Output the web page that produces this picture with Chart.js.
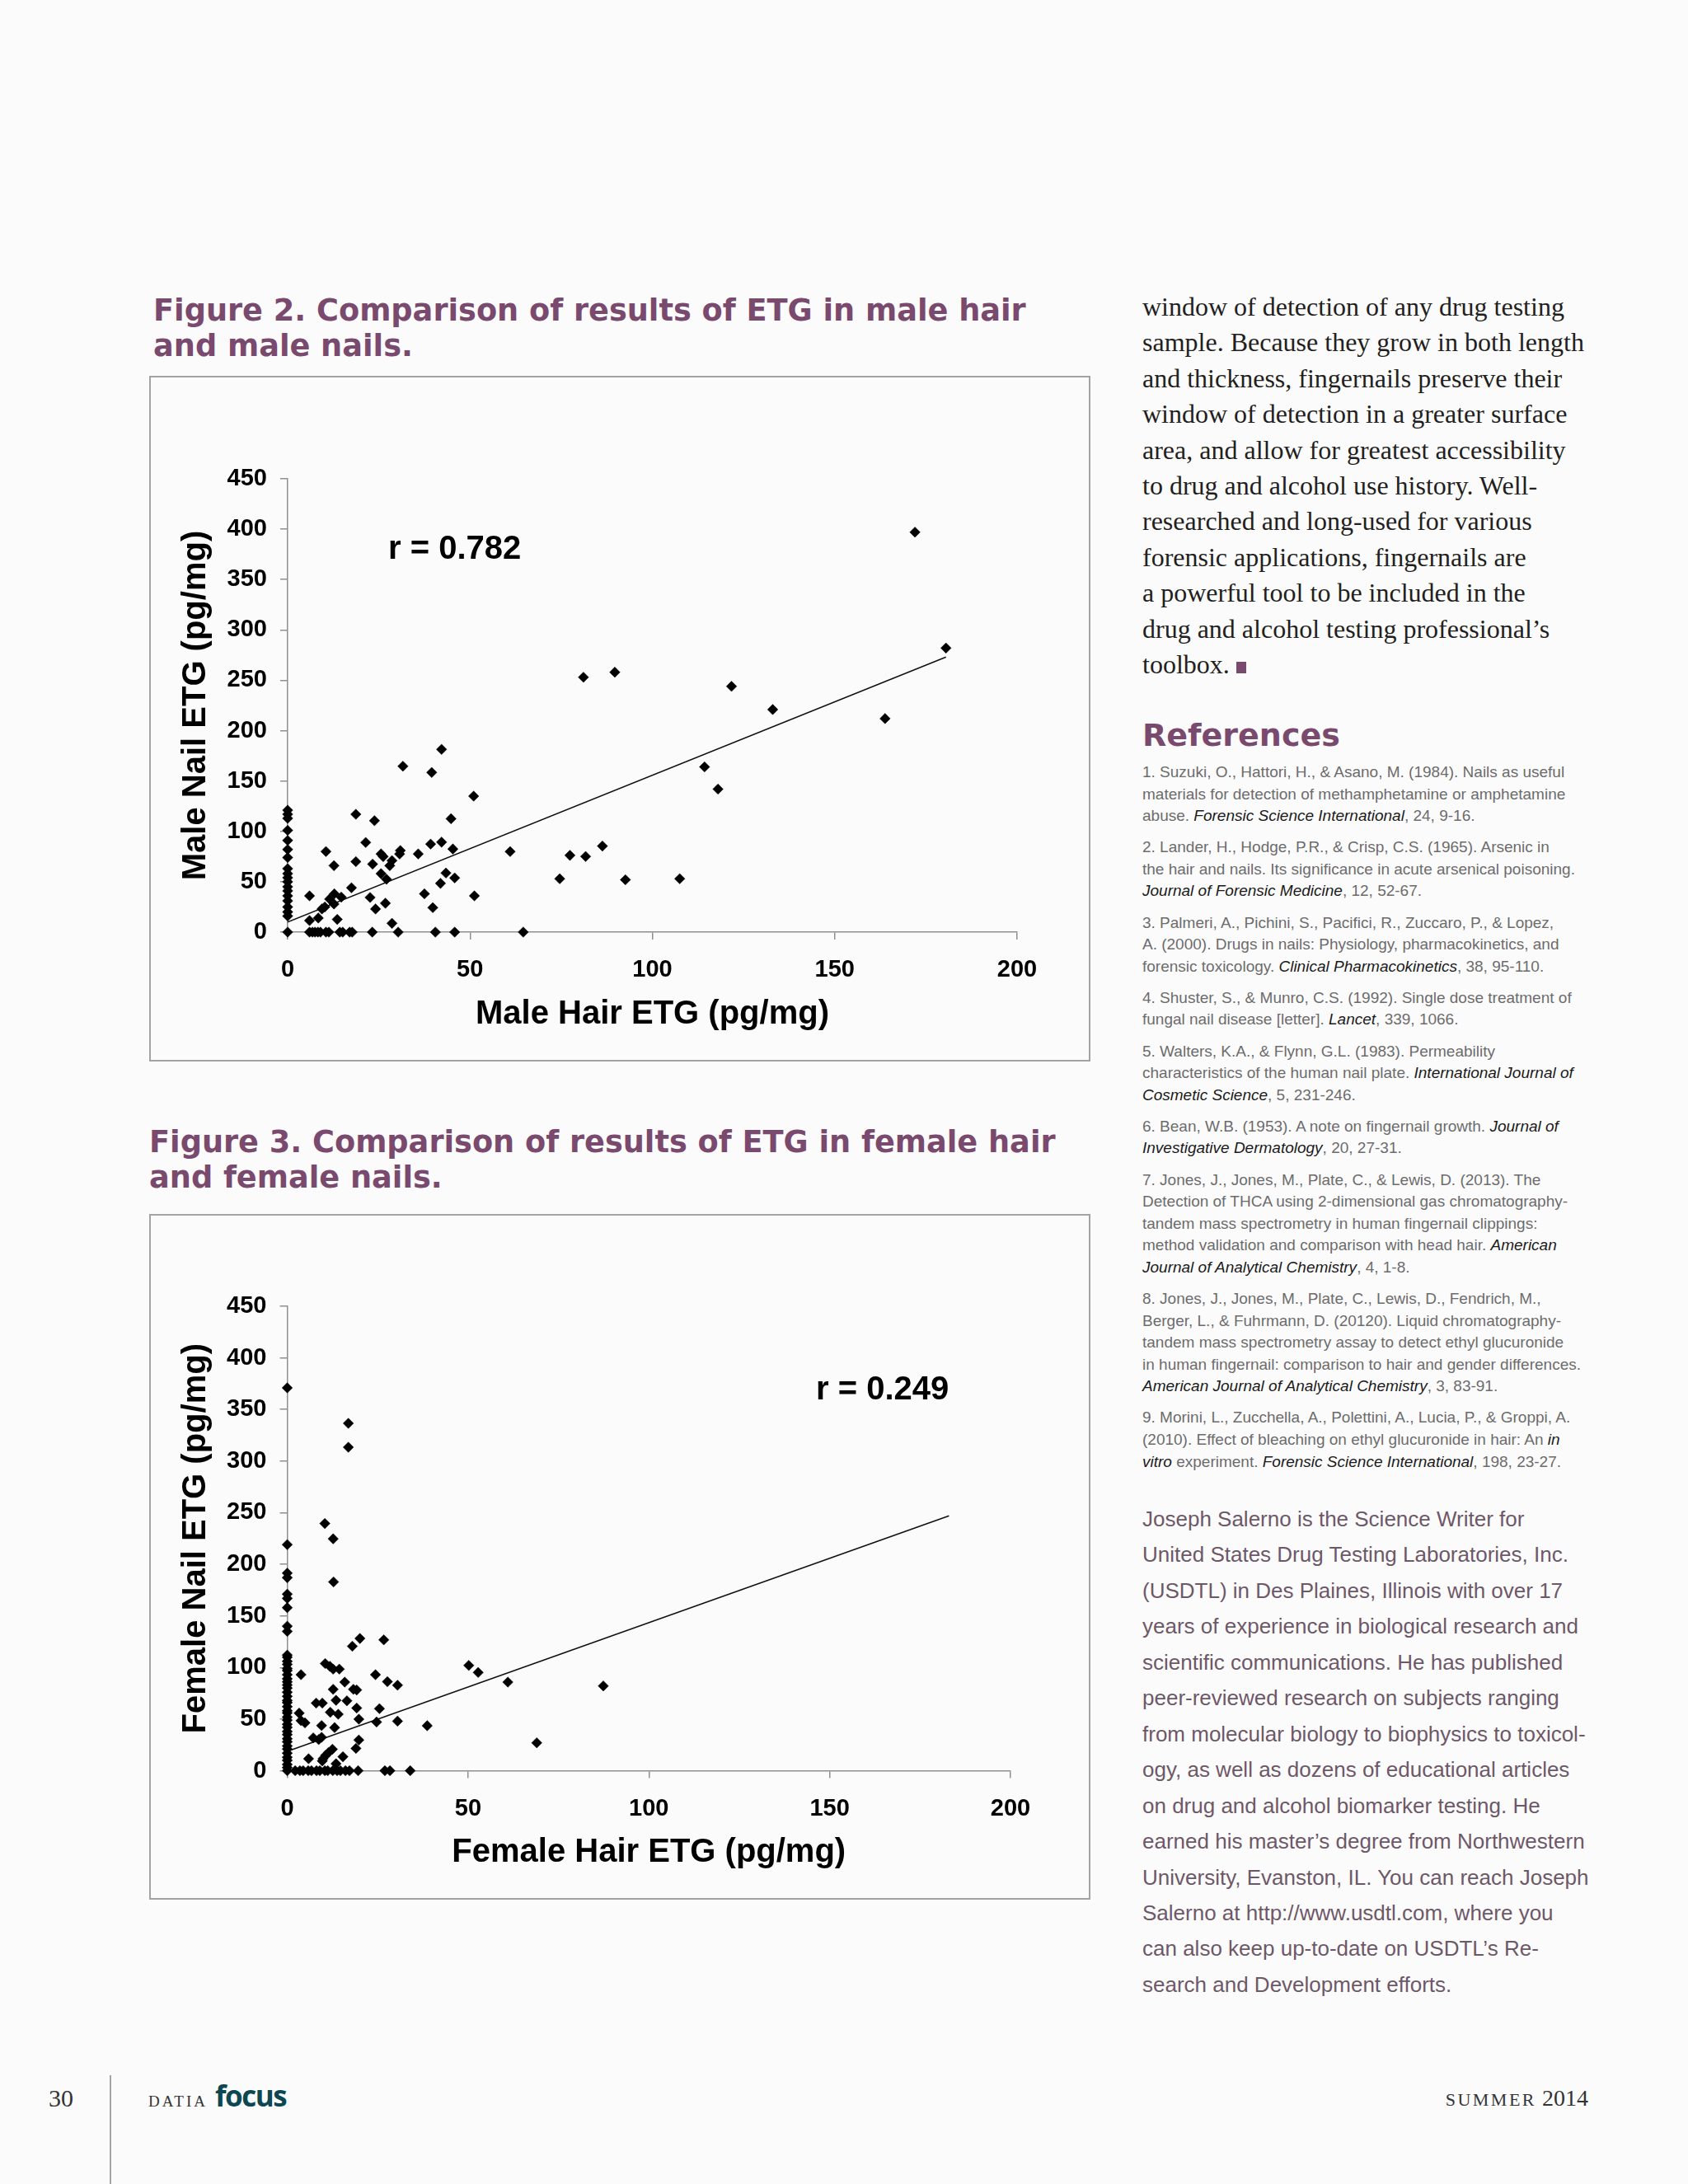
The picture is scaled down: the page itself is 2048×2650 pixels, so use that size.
<!DOCTYPE html>
<html>
<head>
<meta charset="utf-8">
<title>DATIA focus – Summer 2014, p. 30</title>
<script src="https://cdn.jsdelivr.net/npm/chart.js@4.4.1/dist/chart.umd.min.js"></script>
<style>
  html, body { margin: 0; padding: 0; }
  body {
    width: 2048px; height: 2650px; position: relative; overflow: hidden;
    background: #fcfbfc;
    font-family: "Liberation Sans", Arial, sans-serif;
  }
  .fig-title {
    position: absolute; white-space: pre;
    font: bold 36.7px/42.7px "DejaVu Sans", sans-serif;
    color: #7a4a6e;
  }
  .box {
    position: absolute; left: 181px; width: 1142px; height: 832px;
    box-sizing: border-box; border: 2px solid #a3a3a3;
  }
  canvas { position: absolute; left: 181px; }
  .rval {
    position: absolute; white-space: pre;
    font: bold 40px/40px "Liberation Sans", Arial, sans-serif; color: #000;
  }
  .body-text {
    position: absolute; left: 1386px; top: 351px; white-space: pre;
    font: 32px/43.4px "Liberation Serif", serif; color: #231f20;
  }
  .blk { display: inline-block; width: 12px; height: 14px; background: #7a4a6e; margin-left: 8px; }
  .refs-head {
    position: absolute; left: 1386px; top: 873px; white-space: pre;
    font: bold 38px/38px "DejaVu Sans", sans-serif; color: #7a4a6e;
  }
  .refs {
    position: absolute; left: 1386px; top: 924px; white-space: nowrap;
    font: 19px/26.6px "Liberation Sans", Arial, sans-serif; color: #6c6c6c;
  }
  .refs p { margin: 0 0 11.5px 0; }
  .refs i { color: #1a1a1a; }
  .bio {
    position: absolute; left: 1386px; top: 1822px; white-space: pre;
    font: 26px/43.45px "Liberation Sans", Arial, sans-serif; color: #6d5868;
  }
  .folio { position: absolute; left: 59px; top: 2531px; font: 30px/30px "Liberation Serif", serif; color: #333; }
  .rule { position: absolute; left: 133px; top: 2518px; width: 2px; height: 132px; background: #a5a5a5; }
  .datia { position: absolute; left: 180px; top: 2540px; font: 19px/19px "Liberation Serif", serif; letter-spacing: 3px; color: #333; }
  .focus { position: absolute; left: 261px; top: 2525px; font: bold 35px/35px "Open Sans", sans-serif; letter-spacing: -1.5px; color: #0d4751; }
  .issue { position: absolute; right: 121px; top: 2531px; font: 28px/30px "Liberation Serif", serif; color: #333; }
  .issue .sc { font-size: 22px; letter-spacing: 2.5px; }
</style>
</head>
<body>

<div class="fig-title" style="left:186px;top:356px;">Figure 2. Comparison of results of ETG in male hair
and male nails.</div>
<div class="box" style="top:456px;"></div>
<canvas id="maleChart" width="1142" height="832" style="top:456px;"></canvas>
<div class="rval" style="left:471px;top:644px;">r = 0.782</div>

<div class="fig-title" style="left:181px;top:1365px;">Figure 3. Comparison of results of ETG in female hair
and female nails.</div>
<div class="box" style="top:1473px;"></div>
<canvas id="femaleChart" width="1142" height="832" style="top:1473px;"></canvas>
<div class="rval" style="left:990px;top:1664px;">r = 0.249</div>

<div class="body-text">window of detection of any drug testing
sample. Because they grow in both length
and thickness, fingernails preserve their
window of detection in a greater surface
area, and allow for greatest accessibility
to drug and alcohol use history. Well-
researched and long-used for various
forensic applications, fingernails are
a powerful tool to be included in the
drug and alcohol testing professional’s
toolbox.<span class="blk"></span></div>

<div class="refs-head">References</div>
<div class="refs">
<p>1. Suzuki, O., Hattori, H., &amp; Asano, M. (1984). Nails as useful<br>materials for detection of methamphetamine or amphetamine<br>abuse. <i>Forensic Science International</i>, 24, 9-16.</p>
<p>2. Lander, H., Hodge, P.R., &amp; Crisp, C.S. (1965). Arsenic in<br>the hair and nails. Its significance in acute arsenical poisoning.<br><i>Journal of Forensic Medicine</i>, 12, 52-67.</p>
<p>3. Palmeri, A., Pichini, S., Pacifici, R., Zuccaro, P., &amp; Lopez,<br>A. (2000). Drugs in nails: Physiology, pharmacokinetics, and<br>forensic toxicology. <i>Clinical Pharmacokinetics</i>, 38, 95-110.</p>
<p>4. Shuster, S., &amp; Munro, C.S. (1992). Single dose treatment of<br>fungal nail disease [letter]. <i>Lancet</i>, 339, 1066.</p>
<p>5. Walters, K.A., &amp; Flynn, G.L. (1983). Permeability<br>characteristics of the human nail plate. <i>International Journal of</i><br><i>Cosmetic Science</i>, 5, 231-246.</p>
<p>6. Bean, W.B. (1953). A note on fingernail growth. <i>Journal of</i><br><i>Investigative Dermatology</i>, 20, 27-31.</p>
<p>7. Jones, J., Jones, M., Plate, C., &amp; Lewis, D. (2013). The<br>Detection of THCA using 2-dimensional gas chromatography-<br>tandem mass spectrometry in human fingernail clippings:<br>method validation and comparison with head hair. <i>American</i><br><i>Journal of Analytical Chemistry</i>, 4, 1-8.</p>
<p>8. Jones, J., Jones, M., Plate, C., Lewis, D., Fendrich, M.,<br>Berger, L., &amp; Fuhrmann, D. (20120). Liquid chromatography-<br>tandem mass spectrometry assay to detect ethyl glucuronide<br>in human fingernail: comparison to hair and gender differences.<br><i>American Journal of Analytical Chemistry</i>, 3, 83-91.</p>
<p>9. Morini, L., Zucchella, A., Polettini, A., Lucia, P., &amp; Groppi, A.<br>(2010). Effect of bleaching on ethyl glucuronide in hair: An <i>in</i><br><i>vitro</i> experiment. <i>Forensic Science International</i>, 198, 23-27.</p>
</div>

<div class="bio">Joseph Salerno is the Science Writer for
United States Drug Testing Laboratories, Inc.
(USDTL) in Des Plaines, Illinois with over 17
years of experience in biological research and
scientific communications. He has published
peer-reviewed research on subjects ranging
from molecular biology to biophysics to toxicol-
ogy, as well as dozens of educational articles
on drug and alcohol biomarker testing. He
earned his master’s degree from Northwestern
University, Evanston, IL. You can reach Joseph
Salerno at http://www.usdtl.com, where you
can also keep up-to-date on USDTL’s Re-
search and Development efforts.</div>

<div class="folio">30</div>
<div class="rule"></div>
<div class="datia">DATIA</div>
<div class="focus">focus</div>
<div class="issue"><span class="sc">SUMMER</span> 2014</div>

<script>
// tick values shared by both figures
const hairTicks = [0, 50, 100, 150, 200];
const nailTicks = [0, 50, 100, 150, 200, 250, 300, 350, 400, 450];

// Figure 2: male hair ETG vs male nail ETG (pg/mg)
const maleHair = [
  0, 0, 0, 0, 0, 0, 0, 0, 0, 0, 0, 0, 0, 0, 0, 0, 0, 0, 0,
  6, 6.8, 7.5, 8.3, 9, 10.5, 11.3, 14.3, 15.1, 17, 17.7, 23.2, 30.3, 40.5, 45.8, 64.6,
  6, 6, 8.4, 13.6, 10.5, 12.7, 18.7, 23.8, 21.4, 18.7,
  23.3, 25.6, 26.2, 28.6, 28, 30.9, 30.7, 35.8, 39.2, 42.2,
  45.3, 44.8, 42.2, 31.6, 39.5, 51, 61, 77.4, 81.7, 74.6,
  25.6, 27.1, 17.5, 12.8, 14.7, 11.5, 12.7, 10.2, 9.4, 22.6,
  24.1, 26.8, 28.6, 37.5, 39.8, 43.4, 45.8, 41.9, 51.2,
  86.3, 92.6, 107.5, 114.3, 118, 81.1, 89.7, 121.7, 133, 163.8, 172, 180.5
];
const maleNail = [
  121, 117, 113, 101, 91, 82, 74, 63, 58, 54, 50, 45, 41, 36, 31, 25, 20, 16, 0,
  0, 0, 0, 0, 0, 0, 0, 0, 0, 0, 0, 0, 0, 0, 0, 0,
  36, 11.5, 14, 12.6, 80, 66, 117, 110.6, 89, 70,
  67.5, 77.6, 75, 71, 66, 81, 77.6, 77.6, 87.4, 89.3,
  82.5, 112.6, 181.4, 164.7, 158.5, 135, 80, 76.2, 75.1, 53,
  58, 52.5, 44, 38, 34.7, 32.8, 27.9, 25, 23, 34.4,
  23, 28.7, 8.7, 38, 24.3, 58.7, 53.8, 48.4, 36,
  85.4, 52, 53, 164, 142, 253, 258, 244, 221, 212, 397, 282
];
const maleTrendHair = [0, 180.5];
const maleTrendNail = [10, 273];

// Figure 3: female hair ETG vs female nail ETG (pg/mg)
const femaleHair = [
  0, 0, 0, 0, 0, 0, 0, 0, 0, 0, 0, 0, 0, 0, 0, 0, 0, 0, 0, 0, 0,
  0, 0, 0, 0, 0, 0, 0, 0, 0, 0, 0, 0, 0, 0, 0, 0, 0, 0, 0, 0, 0, 0,
  2.2, 3.5, 4.4, 5.8, 6.7, 8.1, 9.0, 10.4, 11.2, 12.6, 13.8, 14.7, 16.1, 17.2, 19.6, 27.0, 28.4, 34.0,
  16.9, 16.9, 10.4, 12.7, 12.8, 20.1, 18, 26.7, 50.2, 52.8,
  61, 87.4, 69, 38.7, 3.8, 10.5, 11.8, 12.7, 14.4, 24.4,
  27.7, 30.5, 15.9, 12.7, 18.3, 19.2, 8, 9.7, 13.5, 16.5,
  11.9, 14.1, 19.2, 25.5, 3.3, 3.8, 4.9, 19.8, 24.7, 30.5,
  9.5, 13.1, 7.2, 8.7, 9.5, 19.8, 19, 12.5, 11.4, 10.6,
  9.9, 9.7, 5.9, 15.4, 13.5
];
const femaleNail = [
  371, 219, 191.5, 187, 171, 167, 158, 140, 135, 112, 110, 106, 103, 99, 97, 93, 89, 86, 83, 80, 76,
  72, 68, 66, 62, 58, 56, 52, 49, 45, 42, 38, 35, 31, 28, 24, 21, 17, 13, 10, 6, 3, 0,
  0, 0, 0, 0, 0, 0, 0, 0, 0, 0, 0, 0, 0, 0, 0, 0, 0, 0,
  336.6, 313.4, 239.5, 224.7, 182.9, 128.1, 120.6, 126.8, 102, 95.2,
  85.8, 82.1, 27, 43.6, 93, 103.8, 101.1, 98.4, 98.4, 93,
  86.3, 82.8, 85.8, 78.8, 78.8, 78.2, 65.5, 65.5, 68.2, 67.7,
  56.6, 54.7, 60.7, 60.1, 55.8, 48.5, 46.4, 49.9, 47.2, 48,
  43.7, 41.8, 31.8, 30.2, 32.4, 29.7, 21.6, 20.8, 17.5, 14.8,
  11.6, 9.4, 11.6, 13.5, 6.7
];
const femaleTrendHair = [1, 183];
const femaleTrendNail = [20, 247];

const axisGray = "#8f8f8f";
const fontFamily = "'Liberation Sans', Arial, sans-serif";

function etgChart(canvasId, hair, nail, trendHair, trendNail, xTitle, yTitle, area) {
  const points = hair.map((x, i) => ({ x: x, y: nail[i] }));
  const trend = trendHair.map((x, i) => ({ x: x, y: trendNail[i] }));

  return new Chart(document.getElementById(canvasId), {
    type: "scatter",
    data: {
      datasets: [
        {
          type: "line",
          data: trend,
          borderColor: "#111",
          borderWidth: 1.6,
          pointRadius: 0,
          fill: false,
          order: 2,
        },
        {
          data: points,
          pointStyle: "rectRot",
          pointRadius: 6.3,
          backgroundColor: "#000",
          borderColor: "#000",
          borderWidth: 0.5,
          clip: false,
          order: 1,
        },
      ],
    },
    options: {
      responsive: false,
      animation: false,
      devicePixelRatio: 1,
      layout: { padding: { left: 0, top: area.top, right: area.right, bottom: 0 } },
      plugins: { legend: { display: false }, tooltip: { enabled: false } },
      scales: {
        x: {
          type: "linear",
          min: hairTicks[0],
          max: hairTicks[hairTicks.length - 1],
          afterBuildTicks: (s) => { s.ticks = hairTicks.map((v) => ({ value: v })); },
          afterFit: (s) => { s.height = area.xHeight; },
          grid: { drawOnChartArea: false, drawTicks: true, tickLength: 9, color: axisGray, lineWidth: 1.5 },
          border: { color: axisGray, width: 1.5 },
          ticks: { color: "#000", padding: 20, maxRotation: 0, font: { family: fontFamily, size: 29, weight: "bold" } },
          title: {
            display: true, text: xTitle, color: "#000",
            font: { family: fontFamily, size: 40, weight: "bold" },
            padding: { top: 0, bottom: 33 },
          },
        },
        y: {
          type: "linear",
          min: nailTicks[0],
          max: nailTicks[nailTicks.length - 1],
          afterBuildTicks: (s) => { s.ticks = nailTicks.map((v) => ({ value: v })); },
          afterFit: (s) => { s.width = area.yWidth; },
          grid: { drawOnChartArea: false, drawTicks: true, tickLength: 9, color: axisGray, lineWidth: 1.5 },
          border: { color: axisGray, width: 1.5 },
          ticks: { color: "#000", padding: 16, font: { family: fontFamily, size: 29, weight: "bold" } },
          title: {
            display: true, text: yTitle, color: "#000",
            font: { family: fontFamily, size: 40, weight: "bold" },
            padding: { top: 33, bottom: 0 },
          },
        },
      },
    },
  });
}

etgChart("maleChart", maleHair, maleNail, maleTrendHair, maleTrendNail,
  "Male Hair ETG (pg/mg)", "Male Nail ETG (pg/mg)",
  { top: 125, right: 89, xHeight: 157, yWidth: 168 });

etgChart("femaleChart", femaleHair, femaleNail, femaleTrendHair, femaleTrendNail,
  "Female Hair ETG (pg/mg)", "Female Nail ETG (pg/mg)",
  { top: 112, right: 97, xHeight: 156.5, yWidth: 167.5 });
</script>
</body>
</html>
